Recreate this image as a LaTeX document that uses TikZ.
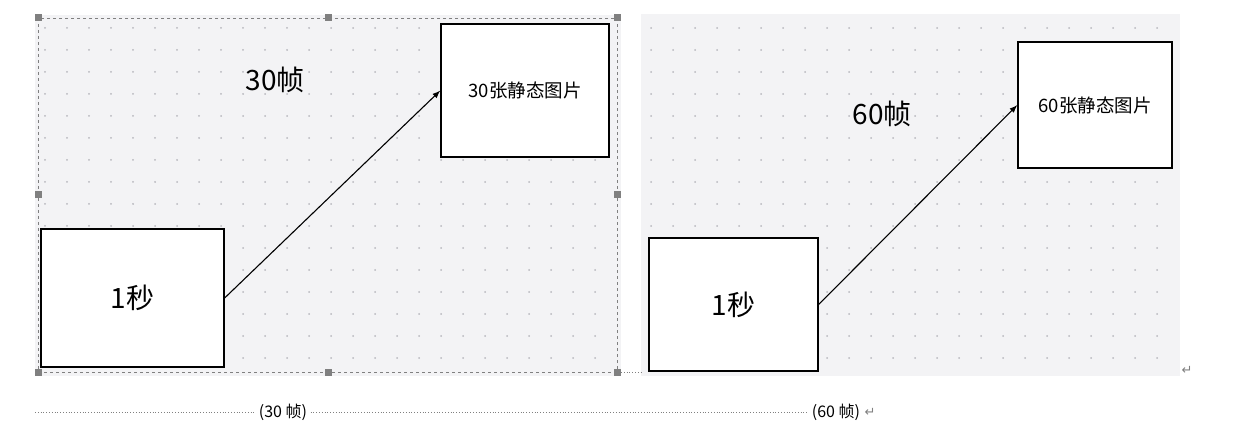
\documentclass[tikz,border=0pt]{standalone}
\usepackage{fontspec}
\setmainfont{Noto Sans CJK SC}
\newfontfamily\symfont{DejaVu Sans}
\definecolor{panel}{HTML}{F3F3F5}
\definecolor{griddot}{HTML}{B8B8BE}
\definecolor{handle}{HTML}{808080}
\tikzset{
  box/.style={draw=black,line width=1.3pt,fill=white,inner sep=0pt},
  conn/.style={-{Latex[length=8pt,width=6pt]},line width=1.1pt},
  hd/.style={fill=handle,minimum size=7pt,inner sep=0pt},
  dotline/.style={dotted,draw=gray,line width=0.8pt}
}
\usetikzlibrary{arrows.meta}
\begin{document}
\begin{tikzpicture}[x=1pt,y=-1pt]
\useasboundingbox (0,0) rectangle (1252,435);
\fill[white] (0,0) rectangle (1252,435);
% panels
\fill[panel] (35,15) rectangle (621,376);
\fill[panel] (641,14) rectangle (1180,376);
\foreach \x in {45,67,...,615}{\foreach \y in {28,50,...,370}{\fill[griddot] (\x,\y) circle (1);}}
\foreach \x in {651,673,...,1176}{\foreach \y in {28,50,...,370}{\fill[griddot] (\x,\y) circle (1);}}
\draw[dashed,draw=gray,line width=0.5pt] (38,18) rectangle (617,372);
\foreach \p in {(38,18),(328,18),(617,18),(38,195),(617,195),(38,372),(328,372),(617,372)} \node[hd] at \p {};
% left
\node[box,minimum width=183pt,minimum height=138pt,font=\fontsize{28}{32}\selectfont] (a1) at (132.5,298) {1秒};
\node[box,minimum width=168pt,minimum height=133pt,font=\fontsize{18.5}{22}\selectfont] (b1) at (525,90.5) {30张静态图片};
\node[font=\fontsize{28}{32}\selectfont] (l1) at (275,80) {30帧};
\draw[conn] (a1.east) -- (b1.west);
% right
\node[box,minimum width=169pt,minimum height=133pt,font=\fontsize{28}{32}\selectfont] (a2) at (733.5,304.5) {1秒};
\node[box,minimum width=154pt,minimum height=126pt,font=\fontsize{18.5}{22}\selectfont] (b2) at (1095,105) {60张静态图片};
\node[font=\fontsize{28}{32}\selectfont] (l2) at (882,114) {60帧};
\draw[conn] (a2.east) -- (b2.west);
\node[text=gray,font=\symfont\fontsize{13}{14}\selectfont] (r1) at (1187,370) {↵};
% bottom line
\draw[dotline] (621,372) -- (641,372);
\node[font=\fontsize{16}{18}\selectfont] (t1) at (283,412) {(30 帧)};
\node[font=\fontsize{16}{18}\selectfont] (t2) at (836,412) {(60 帧)};
\node[text=gray,font=\symfont\fontsize{13}{14}\selectfont,inner sep=0pt] (r2) at (870,412) {↵};
\draw[dotline] (35,412) -- (t1.west);
\draw[dotline] (t1.east) -- (t2.west);
\end{tikzpicture}
\end{document}
